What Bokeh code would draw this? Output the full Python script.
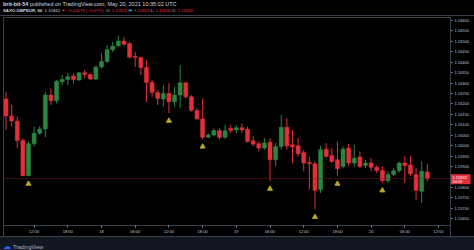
import pandas as pd
from bokeh.plotting import figure
from bokeh.models import (ColumnDataSource, Range1d, FixedTicker, LinearAxis,
                          Span, Div, PrintfTickFormatter, GridBox)
from bokeh.layouts import column
from bokeh.transform import dodge
from bokeh.core.properties import value
from bokeh.embed import file_html
from bokeh.resources import INLINE

# ---------------- data ----------------
author = "brit-bit-54"
author_rest = "published on TradingView.com, May 20, 2021 10:35:02 UTC"
symbol = "SAXO:GBPEUR, 60"
change_text = "\u22120.00076 (\u22120.07%)"
countdown = "24:59"
first_bar = "2021-05-17 07:00"
day_start = "2021-05-18 00:00"

opens = [1.16223, 1.16142, 1.16118, 1.16024, 1.15856, 1.16009, 1.16059, 1.16080, 1.16242, 1.16215,
         1.16306, 1.16317, 1.16333, 1.16314, 1.16349, 1.16341, 1.16319, 1.16377, 1.16403, 1.16460,
         1.16479, 1.16501, 1.16489, 1.16428, 1.16422, 1.16374, 1.16303, 1.16255, 1.16223, 1.16250,
         1.16210, 1.16242, 1.16301, 1.16234, 1.16168, 1.16128, 1.16040, 1.16051, 1.16072, 1.16040,
         1.16082, 1.16075, 1.16086, 1.16078, 1.16023, 1.16009, 1.15988, 1.16016, 1.15932, 1.15996,
         1.16088, 1.16004, 1.15999, 1.15967, 1.15919, 1.15913, 1.15789, 1.15983, 1.15953, 1.15932,
         1.15900, 1.15988, 1.15916, 1.15945, 1.15905, 1.15916, 1.15896, 1.15881, 1.15832, 1.15861,
         1.15880, 1.15916, 1.15907, 1.15861, 1.15781, 1.15874]
highs = [1.16258, 1.16195, 1.16139, 1.16036, 1.16020, 1.16091, 1.16094, 1.16258, 1.16274, 1.16314,
         1.16338, 1.16346, 1.16346, 1.16354, 1.16362, 1.16346, 1.16385, 1.16441, 1.16481, 1.16497,
         1.16528, 1.16520, 1.16497, 1.16449, 1.16425, 1.16409, 1.16314, 1.16266, 1.16290, 1.16301,
         1.16282, 1.16385, 1.16306, 1.16242, 1.16179, 1.16226, 1.16059, 1.16083, 1.16083, 1.16099,
         1.16099, 1.16099, 1.16107, 1.16091, 1.16044, 1.16020, 1.16036, 1.16036, 1.16012, 1.16147,
         1.16131, 1.16075, 1.16036, 1.15980, 1.15948, 1.15924, 1.15999, 1.16012, 1.15988, 1.16020,
         1.15996, 1.16009, 1.16004, 1.15972, 1.15932, 1.15940, 1.15905, 1.15900, 1.15877, 1.15892,
         1.15924, 1.15948, 1.15951, 1.15892, 1.15924, 1.15913]
lows = [1.16075, 1.16091, 1.15988, 1.15853, 1.15853, 1.15996, 1.16051, 1.16040, 1.16195, 1.16203,
        1.16290, 1.16290, 1.16298, 1.16311, 1.16322, 1.16314, 1.16314, 1.16369, 1.16396, 1.16449,
        1.16473, 1.16476, 1.16417, 1.16377, 1.16338, 1.16210, 1.16234, 1.16195, 1.16187, 1.16155,
        1.16187, 1.16179, 1.16226, 1.16163, 1.16123, 1.16031, 1.16036, 1.16044, 1.16031, 1.16031,
        1.16059, 1.16059, 1.16059, 1.16015, 1.15996, 1.15972, 1.15980, 1.15829, 1.15900, 1.15980,
        1.15980, 1.15916, 1.15948, 1.15877, 1.15789, 1.15694, 1.15773, 1.15940, 1.15916, 1.15853,
        1.15892, 1.15900, 1.15900, 1.15892, 1.15892, 1.15877, 1.15869, 1.15821, 1.15821, 1.15853,
        1.15869, 1.15821, 1.15853, 1.15741, 1.15725, 1.15830]
closes = [1.16142, 1.16118, 1.16024, 1.15856, 1.16009, 1.16059, 1.16080, 1.16242, 1.16215, 1.16309,
          1.16317, 1.16330, 1.16317, 1.16349, 1.16341, 1.16319, 1.16377, 1.16403, 1.16460, 1.16476,
          1.16501, 1.16486, 1.16424, 1.16422, 1.16374, 1.16303, 1.16255, 1.16226, 1.16250, 1.16210,
          1.16242, 1.16301, 1.16234, 1.16168, 1.16128, 1.16040, 1.16051, 1.16072, 1.16039, 1.16071,
          1.16072, 1.16086, 1.16075, 1.16020, 1.16007, 1.15988, 1.16013, 1.15932, 1.15996, 1.16088,
          1.15999, 1.15994, 1.15961, 1.15916, 1.15913, 1.15786, 1.15980, 1.15948, 1.15924, 1.15889,
          1.15983, 1.15916, 1.15940, 1.15900, 1.15916, 1.15896, 1.15881, 1.15832, 1.15861, 1.15880,
          1.15916, 1.15904, 1.15865, 1.15786, 1.15877, 1.15842]
signal_bars = [4, 29, 35, 47, 55, 59, 67]

price_ticks = [1.15650, 1.15700, 1.15750, 1.15800, 1.15850, 1.15900, 1.15950, 1.16000,
               1.16050, 1.16100, 1.16150, 1.16200, 1.16250, 1.16300, 1.16350, 1.16400,
               1.16450, 1.16500, 1.16550, 1.16600]
time_tick_hours = [-12, -6, 0, 6, 12, 18, 24, 30, 36, 42, 48, 54, 60]
time_tick_labels = ["12:00", "18:00", "18", "06:00", "12:00", "18:00", "19",
                    "06:00", "12:00", "18:00", "20", "06:00", "12:00"]

# ---------------- styles ----------------
UP = "#2c8641"
DOWN = "#e0303a"
TXT = "#c3c6ce"
GRID = "#3a3e4a"
FONT = "Liberation Sans"
W, H = 474, 220
B_TOP, B_BOT, B_LEFT, B_RIGHT = 1, 10, 3, 24
y_lo, y_hi = 1.15617, 1.16614
x_lo, x_hi = -17.45, 62.13

times = pd.date_range(first_bar, periods=len(closes), freq="h")
hours = ((times - pd.Timestamp(day_start)) / pd.Timedelta(hours=1)).tolist()

src = ColumnDataSource(dict(
    x=hours, o=opens, h=highs, l=lows, c=closes,
    top=[max(a, b) for a, b in zip(opens, closes)],
    bot=[min(a, b) for a, b in zip(opens, closes)],
    col=[UP if c >= o else DOWN for o, c in zip(opens, closes)],
))
sig = ColumnDataSource(dict(x=[hours[i] for i in signal_bars], l=[lows[i] for i in signal_bars]))

p = figure(width=W, height=H, x_range=Range1d(x_lo, x_hi), y_range=Range1d(y_lo, y_hi),
           output_backend="svg", toolbar_location=None, x_axis_location=None, y_axis_location=None,
           min_border_left=B_LEFT, min_border_right=B_RIGHT, min_border_top=B_TOP,
           min_border_bottom=B_BOT, background_fill_color="#000000", border_fill_color="#000000",
           outline_line_color=GRID, frame_align=False)
p.xgrid.visible = False
p.ygrid.visible = False

ya = LinearAxis(ticker=FixedTicker(ticks=price_ticks), formatter=PrintfTickFormatter(format="%.5f"))
ya.major_label_text_font_size = "4px"
ya.major_label_text_font = FONT
ya.major_label_text_color = TXT
ya.axis_line_color = None
ya.major_tick_line_color = "#8a8d96"
ya.major_tick_out = 2
ya.major_tick_in = 0
ya.minor_tick_line_color = None
ya.major_label_standoff = 2
p.add_layout(ya, "right")

xa = LinearAxis(ticker=FixedTicker(ticks=time_tick_hours),
                major_label_overrides={h: t for h, t in zip(time_tick_hours, time_tick_labels)})
xa.major_label_text_font_size = "4px"
xa.major_label_text_font = FONT
xa.major_label_text_color = TXT
xa.axis_line_color = None
xa.major_tick_line_color = "#8a8d96"
xa.major_tick_out = 2
xa.major_tick_in = 0
xa.minor_tick_line_color = None
xa.major_label_standoff = 1
p.add_layout(xa, "below")

# current price line
p.add_layout(Span(location=closes[-1], dimension="width", line_color="#7a1e24",
                  line_width=1, line_dash="1 1"))

p.segment(x0="x", y0="h", x1="x", y1="l", color="col", line_width=1, source=src)
p.vbar(x="x", top="top", bottom="bot", width=0.72, fill_color="col", line_color="col",
       line_width=0.5, source=src)
p.scatter(x="x", y=dodge("l", -0.00036), marker="triangle", size=5,
          fill_color="#b9aa22", line_color="#b9aa22", source=sig)

# transparent overlay: same vertical price scale, spanning the axis column and the time row
y_lo_ext = y_lo - B_BOT * (y_hi - y_lo) / (H - B_TOP - B_BOT)
ov = figure(width=W, height=H, x_range=Range1d(0, W), y_range=Range1d(y_lo_ext, y_hi),
            output_backend="svg", toolbar_location=None, x_axis_location=None,
            y_axis_location=None, min_border_left=0, min_border_right=0, min_border_top=B_TOP,
            min_border_bottom=0, background_fill_alpha=0, border_fill_alpha=0,
            outline_line_color=None, frame_align=False)
ov.xgrid.visible = False
ov.ygrid.visible = False
axis_x = W - B_RIGHT
ov.add_layout(Span(location=axis_x, dimension="height", line_color=GRID, line_width=1))
ov.add_layout(Span(location=B_LEFT, dimension="height", line_color=GRID, line_width=1))
ov.rect(x=[axis_x + 10], y=[closes[-1]], width=20, height=10, width_units="screen",
        height_units="screen", fill_color=DOWN, line_color=None)
ov.text(x=[axis_x + 2, axis_x + 2], y=[closes[-1], closes[-1]],
        text=[f"{closes[-1]:.5f}", countdown], y_offset=[-2.3, 2.4],
        text_font=value(FONT), text_font_size="4px", text_color="#ffffff",
        text_baseline="middle", text_align="left")

chart = GridBox(children=[(p, 0, 0), (ov, 0, 0)], width=W, height=H)

# ---------------- header & footer ----------------
hdr_col = "#d1d4dc"
red_span = lambda s: f'<span style="color:{DOWN}">{s}</span>'
line2 = (f'<b>{symbol}</b>&nbsp; {closes[-1]:.5f} {red_span("&#9660; " + change_text)}'
         f'&nbsp; O: {red_span(f"{opens[-1]:.5f}")} H: {red_span(f"{highs[-1]:.5f}")}'
         f' L: {red_span(f"{lows[-1]:.5f}")} C: {red_span(f"{closes[-1]:.5f}")}')
header = Div(text=(f'<div style="font-family:\'{FONT}\';color:{hdr_col};white-space:nowrap;'
                   f'padding:1px 0 0 3px;">'
                   f'<div style="font-size:5.5px;line-height:6px;"><b>{author}</b> {author_rest}</div>'
                   f'<div style="font-size:4.3px;line-height:6px;margin-top:1px;">{line2}</div></div>'),
             width=W, height=16, margin=0,
             styles={"background-color": "#000000", "overflow": "hidden",
                     "border-bottom": f"1px solid {GRID}", "box-sizing": "border-box"})

footer = Div(text=('<div style="display:flex;align-items:center;height:13px;padding-left:3px;">'
                   '<span style="color:#2962ff;font-size:8px;line-height:8px;">&#9729;</span>'
                   f'<span style="color:#b2b5be;font-size:5.5px;line-height:6px;margin-left:2px;'
                   f'font-family:\'{FONT}\';">TradingView</span></div>'),
             width=W, height=14, margin=0,
             styles={"background-color": "#131722", "border-top": f"1px solid {GRID}",
                     "box-sizing": "border-box", "overflow": "hidden"})

layout = column(header, chart, footer, spacing=0, styles={"background-color": "#000000"})
open("out.html", "w").write(file_html(layout, INLINE))
